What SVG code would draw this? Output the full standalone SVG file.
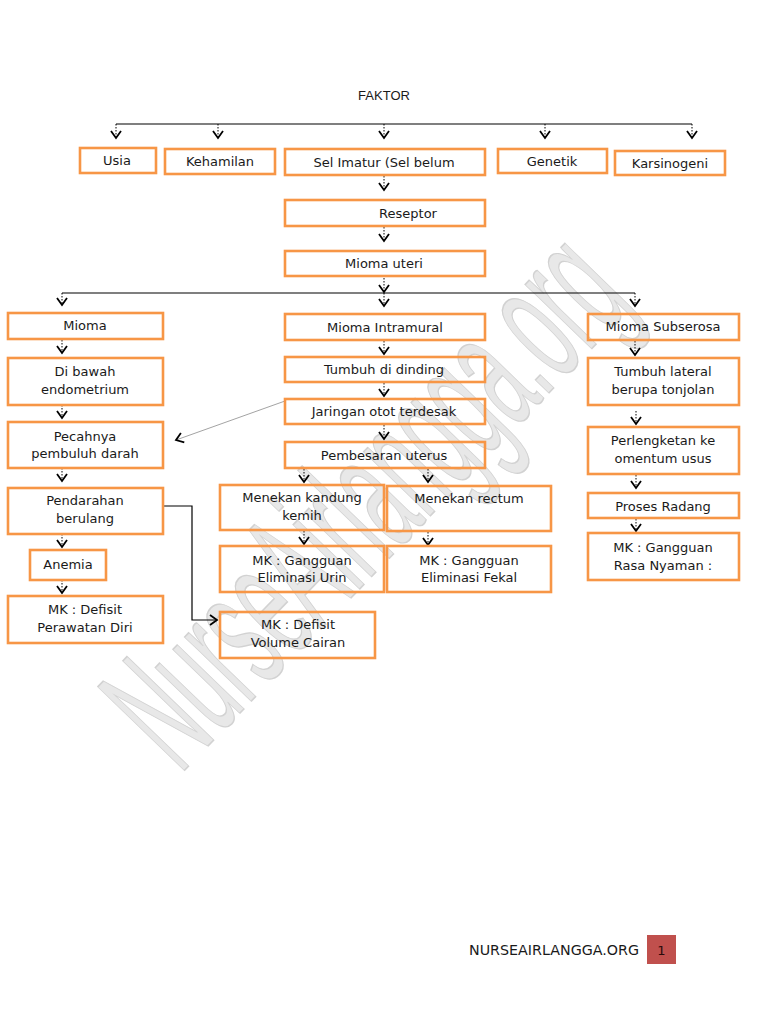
<svg xmlns="http://www.w3.org/2000/svg" width="768" height="1024" viewBox="0 0 768 1024">
<defs>
<marker id="v" markerUnits="userSpaceOnUse" markerWidth="14" markerHeight="14" viewBox="0 0 14 14" refX="9" refY="7" orient="auto">
<path d="M2,2 L9,7 L2,12" fill="none" stroke="#000" stroke-width="1.8"/>
</marker>
</defs>
<style>
.b{fill:none;stroke:#f79646;stroke-width:2.6}
.t{font-family:"DejaVu Sans",Verdana,sans-serif;font-size:13px;fill:#1a1a1a;text-anchor:middle}
.s{stroke:#000;stroke-width:1;stroke-dasharray:1.5 1.5;fill:none}
.l{stroke:#000;stroke-width:1.2;fill:none}
</style>
<rect width="768" height="1024" fill="#fff"/>
<g id="watermark">
<text transform="translate(180,775) rotate(-46)" font-family="Liberation Sans, Arial, sans-serif" font-size="175" textLength="655" lengthAdjust="spacingAndGlyphs" fill="#e8e8e8" stroke="#d2d2d2" stroke-width="1.6">NurseAirlangga.org</text>
</g>
<text x="384" y="100" font-family="Liberation Sans, Arial, sans-serif" font-size="13" fill="#1a1a1a" text-anchor="middle">FAKTOR</text>
<g id="connectors">
<line class="l" x1="116" y1="124" x2="692" y2="124"/>
<line class="s" x1="116" y1="124" x2="116" y2="138" marker-end="url(#v)"/>
<line class="s" x1="218" y1="124" x2="218" y2="138" marker-end="url(#v)"/>
<line class="s" x1="384" y1="124" x2="384" y2="138" marker-end="url(#v)"/>
<line class="s" x1="545" y1="124" x2="545" y2="138" marker-end="url(#v)"/>
<line class="s" x1="692" y1="124" x2="692" y2="138" marker-end="url(#v)"/>
<line class="s" x1="384" y1="176" x2="384" y2="190" marker-end="url(#v)"/>
<line class="s" x1="384" y1="227" x2="384" y2="241" marker-end="url(#v)"/>
<line class="s" x1="384" y1="278" x2="384" y2="292" marker-end="url(#v)"/>
<line class="l" x1="62" y1="293" x2="635" y2="293"/>
<line class="s" x1="62" y1="293" x2="62" y2="305" marker-end="url(#v)"/>
<line class="s" x1="384" y1="293" x2="384" y2="306" marker-end="url(#v)"/>
<line class="s" x1="635" y1="293" x2="635" y2="306" marker-end="url(#v)"/>
<line class="s" x1="62" y1="340" x2="62" y2="353" marker-end="url(#v)"/>
<line class="s" x1="62" y1="405" x2="62" y2="418" marker-end="url(#v)"/>
<line class="s" x1="62" y1="468" x2="62" y2="481" marker-end="url(#v)"/>
<line class="s" x1="62" y1="534" x2="62" y2="547" marker-end="url(#v)"/>
<line class="s" x1="62" y1="580" x2="62" y2="593" marker-end="url(#v)"/>
<line class="s" x1="384" y1="341" x2="384" y2="354" marker-end="url(#v)"/>
<line class="s" x1="384" y1="383" x2="384" y2="396" marker-end="url(#v)"/>
<line class="s" x1="384" y1="425" x2="384" y2="439" marker-end="url(#v)"/>
<line class="s" x1="304" y1="469" x2="304" y2="482" marker-end="url(#v)"/>
<line class="s" x1="428" y1="469" x2="428" y2="482" marker-end="url(#v)"/>
<line class="s" x1="304" y1="531" x2="304" y2="544" marker-end="url(#v)"/>
<line class="s" x1="428" y1="532" x2="428" y2="545" marker-end="url(#v)"/>
<line class="s" x1="635" y1="341" x2="635" y2="355" marker-end="url(#v)"/>
<line class="s" x1="636" y1="411" x2="636" y2="424" marker-end="url(#v)"/>
<line class="s" x1="636" y1="475" x2="636" y2="488" marker-end="url(#v)"/>
<line class="s" x1="636" y1="519" x2="636" y2="531" marker-end="url(#v)"/>
<polyline class="l" points="164,506 192,506 192,620 217,620" marker-end="url(#v)"/>
<line x1="285" y1="401" x2="176" y2="440" stroke="#999" stroke-width="0.9" marker-end="url(#v)"/>
</g>
<g id="usia"><rect class="b" x="80" y="148" width="76" height="25"/><text class="t" x="117" y="165">Usia</text></g>
<g id="kehamilan"><rect class="b" x="165" y="149" width="110" height="25"/><text class="t" x="220" y="166">Kehamilan</text></g>
<g id="sel-imatur"><rect class="b" x="285" y="149" width="200" height="26"/><text class="t" x="384" y="167">Sel Imatur (Sel belum</text></g>
<g id="genetik"><rect class="b" x="498" y="149" width="109" height="24"/><text class="t" x="552" y="166">Genetik</text></g>
<g id="karsinogeni"><rect class="b" x="615" y="151" width="110" height="24"/><text class="t" x="670" y="168">Karsinogeni</text></g>
<g id="reseptor"><rect class="b" x="285" y="200" width="200" height="26"/><text class="t" x="408" y="218">Reseptor</text></g>
<g id="mioma-uteri"><rect class="b" x="285" y="251" width="200" height="25"/><text class="t" x="384" y="268">Mioma uteri</text></g>
<g id="mioma"><rect class="b" x="8" y="313" width="155" height="26"/><text class="t" x="85" y="330">Mioma</text></g>
<g id="mioma-intramural"><rect class="b" x="285" y="314" width="200" height="26"/><text class="t" x="385" y="332">Mioma Intramural</text></g>
<g id="mioma-subserosa"><rect class="b" x="588" y="314" width="151" height="26"/><text class="t" x="663" y="331">Mioma Subserosa</text></g>
<g id="di-bawah"><rect class="b" x="8" y="358" width="155" height="47"/><text class="t" x="85" y="376">Di bawah</text><text class="t" x="85" y="394">endometrium</text></g>
<g id="pecahnya"><rect class="b" x="8" y="422" width="155" height="46"/><text class="t" x="85" y="441">Pecahnya</text><text class="t" x="85" y="458">pembuluh darah</text></g>
<g id="pendarahan"><rect class="b" x="8" y="488" width="155" height="46"/><text class="t" x="85" y="505">Pendarahan</text><text class="t" x="85" y="523">berulang</text></g>
<g id="anemia"><rect class="b" x="30" y="550" width="76" height="30"/><text class="t" x="68" y="569">Anemia</text></g>
<g id="mk-perawatan"><rect class="b" x="8" y="596" width="155" height="47"/><text class="t" x="85" y="614">MK : Defisit</text><text class="t" x="85" y="632">Perawatan Diri</text></g>
<g id="tumbuh-dinding"><rect class="b" x="285" y="357" width="200" height="25"/><text class="t" x="384" y="374">Tumbuh di dinding</text></g>
<g id="jaringan"><rect class="b" x="285" y="399" width="200" height="25"/><text class="t" x="384" y="416">Jaringan otot terdesak</text></g>
<g id="pembesaran"><rect class="b" x="285" y="442" width="200" height="26"/><text class="t" x="384" y="460">Pembesaran uterus</text></g>
<g id="menekan-kandung"><rect class="b" x="220" y="485" width="164" height="45"/><text class="t" x="302" y="502">Menekan kandung</text><text class="t" x="302" y="520">kemih</text></g>
<g id="menekan-rectum"><rect class="b" x="387" y="486" width="164" height="45"/><text class="t" x="469" y="503">Menekan rectum</text></g>
<g id="mk-urin"><rect class="b" x="220" y="546" width="164" height="46"/><text class="t" x="302" y="565">MK : Gangguan</text><text class="t" x="302" y="582">Eliminasi Urin</text></g>
<g id="mk-fekal"><rect class="b" x="387" y="546" width="164" height="46"/><text class="t" x="469" y="565">MK : Gangguan</text><text class="t" x="469" y="582">Eliminasi Fekal</text></g>
<g id="mk-volume"><rect class="b" x="220" y="612" width="155" height="46"/><text class="t" x="298" y="629">MK : Defisit</text><text class="t" x="298" y="647">Volume Cairan</text></g>
<g id="tumbuh-lateral"><rect class="b" x="588" y="358" width="151" height="47"/><text class="t" x="663" y="376">Tumbuh lateral</text><text class="t" x="663" y="394">berupa tonjolan</text></g>
<g id="perlengketan"><rect class="b" x="588" y="427" width="151" height="47"/><text class="t" x="663" y="445">Perlengketan ke</text><text class="t" x="663" y="463">omentum usus</text></g>
<g id="proses-radang"><rect class="b" x="588" y="493" width="151" height="25"/><text class="t" x="663" y="511">Proses Radang</text></g>
<g id="mk-nyaman"><rect class="b" x="588" y="533" width="151" height="47"/><text class="t" x="663" y="552">MK : Gangguan</text><text class="t" x="663" y="570">Rasa Nyaman :</text></g>
<g id="footer">
<text x="469" y="955" font-family="DejaVu Sans, Verdana, sans-serif" font-size="14" textLength="170" lengthAdjust="spacingAndGlyphs" fill="#1a1a1a">NURSEAIRLANGGA.ORG</text>
<rect x="647" y="935" width="29" height="29" fill="#c0504d"/>
<text x="661.5" y="955" font-family="DejaVu Sans, Verdana, sans-serif" font-size="13" fill="#2a0a0a" text-anchor="middle">1</text>
</g>
</svg>
